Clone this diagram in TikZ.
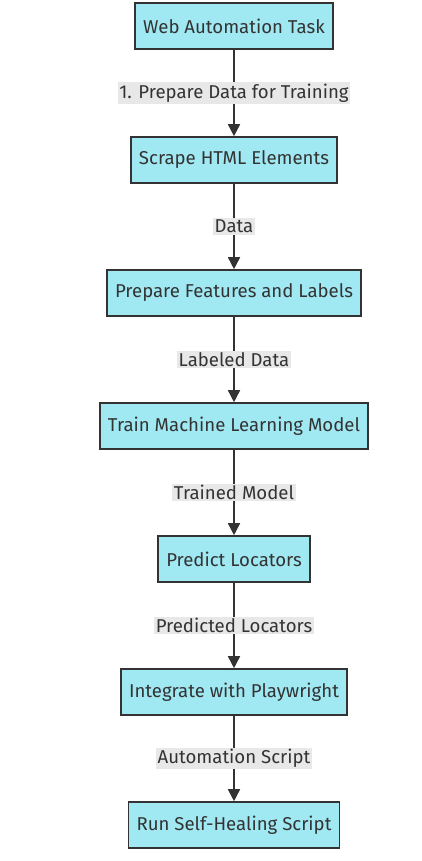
\documentclass[tikz,border=0pt]{standalone}
\usepackage{fontspec}
\setmainfont{Fira Sans}
\usetikzlibrary{arrows.meta}
\definecolor{boxfill}{RGB}{160,232,242}
\definecolor{boxline}{RGB}{51,51,51}
\definecolor{lblfill}{RGB}{232,232,232}
\tikzset{
    stepbox/.style={draw=boxline, line width=1.6pt, fill=boxfill, minimum height=46pt, inner xsep=8pt, text=boxline, font=\fontsize{18.6}{21}\selectfont},
    flow/.style={draw=boxline, line width=1.6pt, -{Triangle[length=12pt,width=12pt]}},
    lbl/.style={fill=lblfill, inner sep=1.5pt, text=boxline, font=\fontsize{18.6}{21}\selectfont}
}
\begin{document}
\begin{tikzpicture}[x=1pt,y=1pt]
        \useasboundingbox (0,0) rectangle (421,-861);
        \node[stepbox] (task) at (234,-26) {Web Automation Task};
        \node[stepbox] (scrape) at (234,-160) {Scrape HTML Elements};
        \node[stepbox] (features) at (234,-293) {Prepare Features and Labels};
        \node[stepbox] (train) at (234,-426) {Train Machine Learning Model};
        \node[stepbox] (predict) at (234,-559) {Predict Locators};
        \node[stepbox] (integrate) at (234,-692) {Integrate with Playwright};
        \node[stepbox] (run) at (234,-825) {Run Self-Healing Script};

        \draw[flow] (task) -- (scrape) node[lbl, midway]{1. Prepare Data for Training};
        \draw[flow] (scrape) -- (features) node[lbl, midway]{Data};
        \draw[flow] (features) -- (train) node[lbl, midway]{Labeled Data};
        \draw[flow] (train) -- (predict) node[lbl, midway]{Trained Model};
        \draw[flow] (predict) -- (integrate) node[lbl, midway]{Predicted Locators};
        \draw[flow] (integrate) -- (run) node[lbl, midway]{Automation Script};
\end{tikzpicture}
\end{document}
